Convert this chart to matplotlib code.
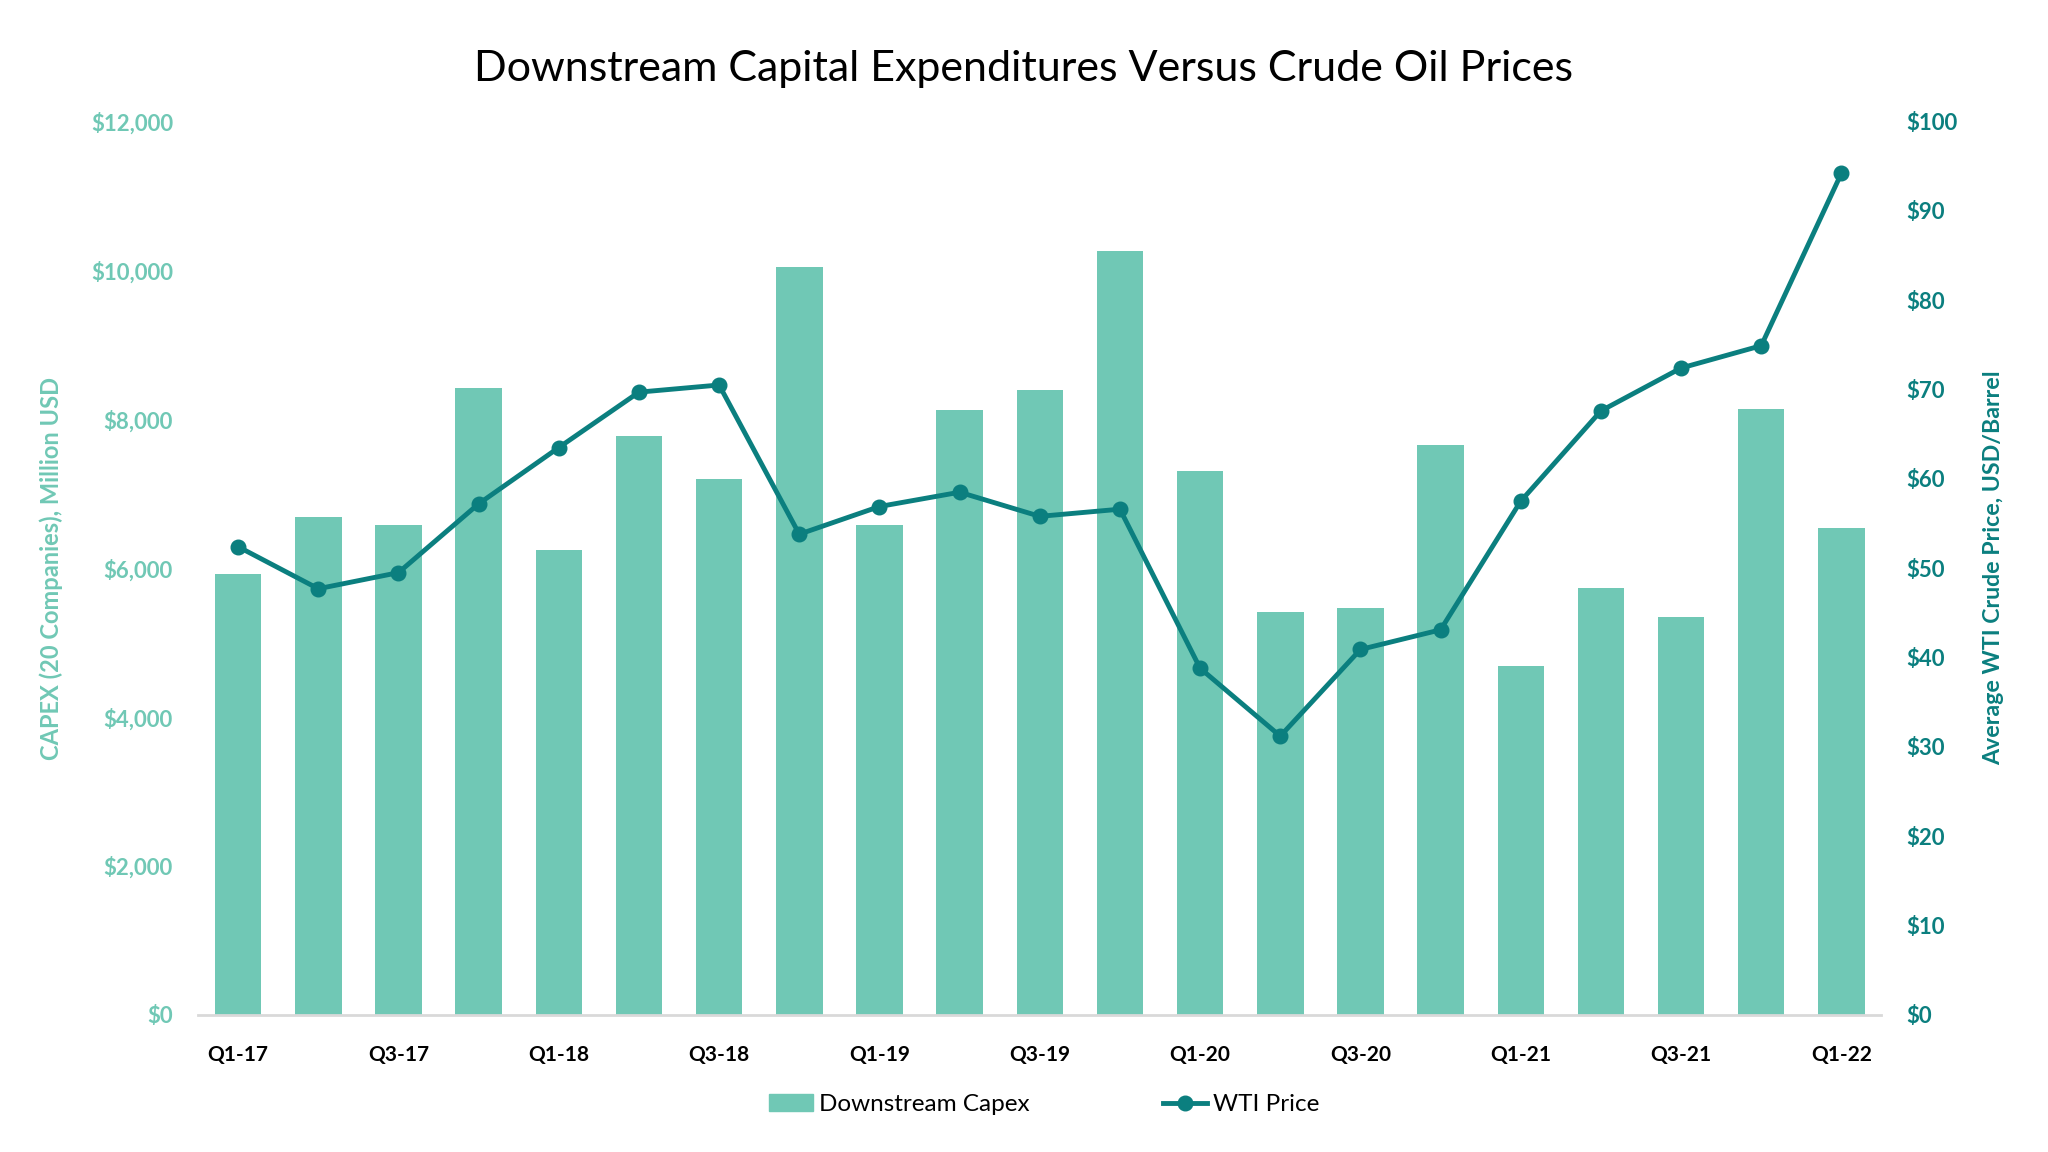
import matplotlib
matplotlib.use("Agg")
import matplotlib.pyplot as plt
from matplotlib.lines import Line2D
from matplotlib.patches import Patch
from matplotlib.ticker import FuncFormatter, MultipleLocator

plt.rcParams['font.family'] = ['Lato', 'DejaVu Sans']

quarters = ["Q1-17", "Q2-17", "Q3-17", "Q4-17", "Q1-18", "Q2-18", "Q3-18", "Q4-18",
            "Q1-19", "Q2-19", "Q3-19", "Q4-19", "Q1-20", "Q2-20", "Q3-20", "Q4-20",
            "Q1-21", "Q2-21", "Q3-21", "Q4-21", "Q1-22"]
capex = [5920, 6690, 6580, 8420, 6250, 7780, 7200, 10050, 6580, 8120, 8390, 10260,
         7300, 5410, 5460, 7660, 4680, 5740, 5350, 8140, 6540]
wti = [52.4, 47.7, 49.5, 57.2, 63.5, 69.7, 70.5, 53.8, 56.9, 58.5, 55.8, 56.6,
       38.8, 31.2, 40.9, 43.1, 57.5, 67.6, 72.4, 74.9, 94.2]

bar_color = "#70C8B5"
line_color = "#0B7F7F"

fig = plt.figure(figsize=(20.48, 11.52), dpi=100)
ax = fig.add_axes([0.0967, 0.119, 0.822, 0.7756])
ax2 = ax.twinx()

x = list(range(len(quarters)))
ax.bar(x, capex, width=0.58, color=bar_color, zorder=2)
ax2.plot(x, wti, color=line_color, lw=3.5, marker='o', ms=10.5, zorder=3)

ax.set_xlim(-0.5, len(quarters) - 0.5)
ax.set_ylim(0, 12000)
ax2.set_ylim(0, 100)
ax.yaxis.set_major_locator(MultipleLocator(2000))
ax2.yaxis.set_major_locator(MultipleLocator(10))
ax.yaxis.set_major_formatter(FuncFormatter(lambda v, p: f"${v:,.0f}"))
ax2.yaxis.set_major_formatter(FuncFormatter(lambda v, p: f"${v:,.0f}"))

ax.set_xticks(x[::2])
ax.set_xticklabels(quarters[::2], fontsize=15, fontweight='bold', color='black')

for a in (ax, ax2):
    for s in a.spines.values():
        s.set_visible(False)
    a.tick_params(length=0)
ax.spines['bottom'].set_visible(True)
ax.spines['bottom'].set_color('#D9D9D9')
ax.spines['bottom'].set_linewidth(2)
ax.tick_params(axis='x', pad=22)
ax.tick_params(axis='y', pad=18, labelsize=16, labelcolor=bar_color)
ax2.tick_params(axis='y', pad=18, labelsize=16, labelcolor=line_color)
for lbl in ax.get_yticklabels():
    lbl.set_fontweight('bold')
for lbl in ax2.get_yticklabels():
    lbl.set_fontweight('bold')

ax.set_ylabel("CAPEX (20 Companies), Million USD", fontsize=17, fontweight='bold',
              color=bar_color, labelpad=20)
ax2.set_ylabel("Average WTI Crude Price, USD/Barrel", fontsize=16.7, fontweight='bold',
               color=line_color, labelpad=18)

fig.text(0.5, 0.940, "Downstream Capital Expenditures Versus Crude Oil Prices",
         ha='center', va='center', fontsize=31, color='black')

handles = [Patch(color=bar_color),
           Line2D([0], [0], color=line_color, lw=3.5, marker='o', ms=10.5)]
fig.legend(handles, ["Downstream Capex", "WTI Price"], loc='center',
           bbox_to_anchor=(0.510, 0.041), ncol=2, frameon=False, fontsize=17.5,
           columnspacing=5.5, handlelength=1.8, handletextpad=0.25)

fig.savefig("out.png", dpi=100)
